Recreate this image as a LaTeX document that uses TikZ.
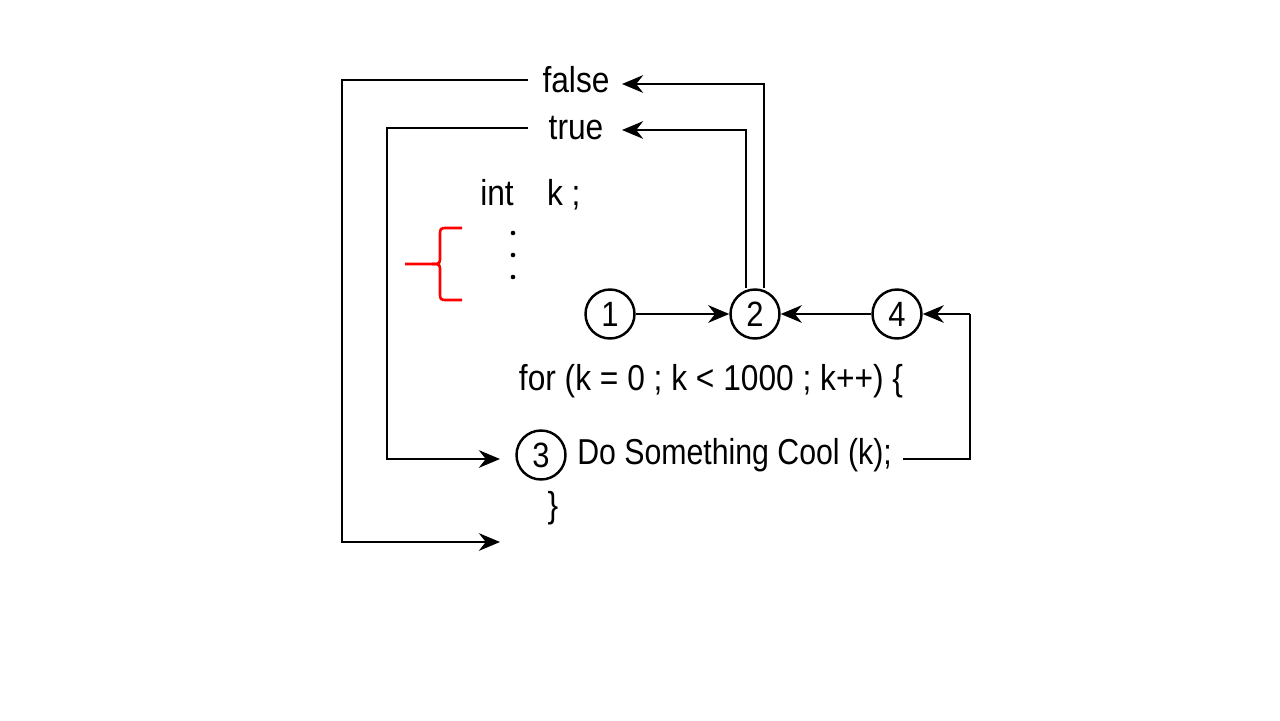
\documentclass[tikz,border=0pt]{standalone}
\usepackage{fontspec}
\setmainfont{Liberation Sans}
\usetikzlibrary{arrows.meta}
\begin{document}
\begin{tikzpicture}[x=0.02cm,y=-0.02cm,
  txt/.style={inner sep=0pt,font=\fontsize{20.5pt}{23pt}\selectfont, xscale=0.88},
  num/.style={circle,draw,line width=1.4pt,minimum size=0.98cm,inner sep=0pt,font=\fontsize{20pt}{23pt}\selectfont},
  ln/.style={line width=1.4pt},
  arr/.style={ln,-{Stealth[length=12pt,width=10pt]}}]
\useasboundingbox[fill=white] (0,0) rectangle (1280,720);
\node[txt] (false) at (576,80) {false};
\node[txt] (true) at (576,128) {true};
\node[txt,anchor=west] (int) at (480,195) {int\hspace{1.05em}k ;};
\foreach \yy in {233,255,277} \fill (513,\yy) circle (2.3);
\node[num] (c1) at (610,314) {\scalebox{0.88}[1]{1}};
\node[num] (c2) at (755,314) {\scalebox{0.88}[1]{2}};
\node[num] (c4) at (897,314) {\scalebox{0.88}[1]{4}};
\node[num] (c3) at (541,455) {\scalebox{0.88}[1]{3}};
\node[txt] (for) at (711,381) {for (k = 0 ; k < 1000 ; k++) \{};
\node[txt,anchor=west,xscale=0.955] (do) at (577,455) {Do Something Cool (k);};
\node[txt] (close) at (553,508) {\}};
\coordinate (fe) at (500,542);
\coordinate (te) at (500,459);
\draw[arr] (528,80) -| (342,542) -- (fe);
\draw[arr] (528,128) -| (387,459) -- (te);
\draw[arr] (c2.north) ++(9,0) |- (622,84);
\draw[arr] (c2.north) ++(-9,0) |- (622,130);
\draw[arr] (c1) -- (c2);
\draw[arr] (c4) -- (c2);
\draw[ln] (903,459) -- (970,459) -- (970,314);
\draw[arr] (970,314) -- (c4);
\draw[red,line width=1.5pt] (462,228) -- (448,228) .. controls (440,228) .. (440,236) -- (440,256) .. controls (440,264) .. (432,264) -- (405,264);
\draw[red,line width=1.5pt] (432,264) .. controls (440,264) .. (440,272) -- (440,292) .. controls (440,300) .. (448,300) -- (462,300);
\end{tikzpicture}
\end{document}
